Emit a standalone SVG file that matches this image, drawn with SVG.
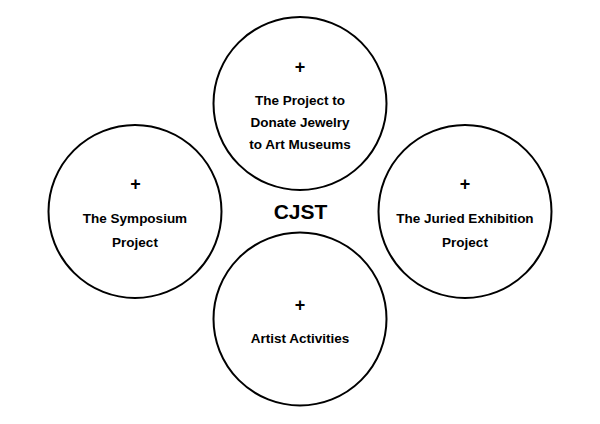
<svg xmlns="http://www.w3.org/2000/svg" width="600" height="424" viewBox="0 0 600 424">
<style>
.c{fill:#fff;stroke:#000;stroke-width:2}
.t{font-family:"Liberation Sans",Arial,sans-serif;font-weight:bold;font-size:13.5px;fill:#000;text-anchor:middle}
.p{font-family:"Liberation Sans",Arial,sans-serif;font-weight:bold;font-size:18px;fill:#000;text-anchor:middle}
</style>
<rect width="600" height="424" fill="#fff"/>
<g id="connectors"></g>
<g id="top">
<circle class="c" cx="300" cy="103.5" r="86.5"/>
<text class="p" x="300" y="73">+</text>
<text class="t" x="300" y="105">The Project to</text>
<text class="t" x="300" y="127">Donate Jewelry</text>
<text class="t" x="300" y="148.5">to Art Museums</text>
</g>
<g id="left">
<circle class="c" cx="135" cy="211.5" r="86.5"/>
<text class="p" x="135.5" y="189.5">+</text>
<text class="t" x="135" y="222.5">The Symposium</text>
<text class="t" x="135" y="247">Project</text>
</g>
<g id="right">
<circle class="c" cx="465" cy="211.5" r="86.5"/>
<text class="p" x="465" y="190">+</text>
<text class="t" x="465" y="222.5">The Juried Exhibition</text>
<text class="t" x="465" y="247">Project</text>
</g>
<g id="bottom">
<circle class="c" cx="300" cy="319" r="86.5"/>
<text class="p" x="300" y="310.5">+</text>
<text class="t" x="300" y="342.5">Artist Activities</text>
</g>
<g id="center">
<text class="t" x="300.5" y="218.5" style="font-size:21px">CJST</text>
</g>
</svg>
